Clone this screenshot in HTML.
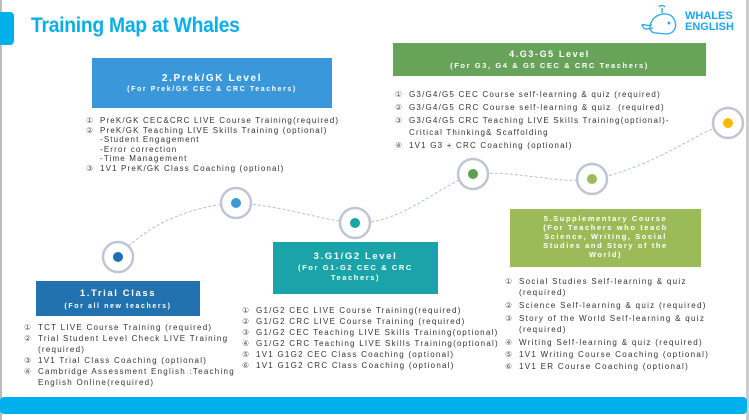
<!DOCTYPE html>
<html><head><meta charset="utf-8"><style>
*{margin:0;padding:0;box-sizing:border-box}
body{width:749px;height:420px;background:#fff;position:relative;overflow:hidden;font-family:"Liberation Sans","DejaVu Sans",sans-serif}
.abs{position:absolute}
.box{position:absolute;color:#fff;text-align:center;font-weight:bold;letter-spacing:1.6px}
.list{position:absolute;font-size:8px;color:#333;letter-spacing:1.25px;white-space:nowrap}
.list div{height:11px;line-height:11px}
.n{display:inline-block;width:14px;font-size:8px;color:#555;letter-spacing:0}
.ind{padding-left:14px}
</style></head><body>
<div class="abs" style="left:0;top:0;width:2px;height:420px;background:#bbb"></div>
<div class="abs" style="left:746px;top:0;width:3px;height:420px;background:#ccc"></div>
<div class="abs" style="left:0;top:12px;width:14px;height:33px;background:#00aeea;border-radius:0 4px 4px 0"></div>
<div class="abs" style="left:31px;top:14px;font-size:21px;color:#0aaee8;font-weight:bold;letter-spacing:-0.3px;transform:scaleX(0.92);transform-origin:0 0;white-space:nowrap">Training Map at Whales</div>
<svg class="abs" style="left:640px;top:3px" width="48" height="34" viewBox="0 0 48 34">
<g fill="none" stroke="#2aa7ea" stroke-width="1.3">
<path d="M16 30 C10 30 8 24 12 18 C16 10 30 8 34 16 C38 24 34 31 26 31 Z"/>
<path d="M12 22 C6 24 4 20 2 22 C4 24 3 26 6 26 C9 26 11 25 13 25"/>
<path d="M22 10 L22 5 M19 4 C20 2 24 2 25 4"/>
<circle cx="29" cy="20" r="0.8" fill="#2aa7ea"/>
</g></svg>
<div class="abs" style="left:685px;top:11px;font-size:11px;line-height:11px;color:#1aa6ec;font-weight:bold">WHALES<br>ENGLISH</div>

<svg class="abs" style="left:0;top:0" width="749" height="420">
<path d="M118 257 C150 220 200 205 236 203 C280 205 320 220 355 223 C400 225 440 185 473 174 C520 170 560 185 592 179 C650 170 700 130 728 123" fill="none" stroke="#b8bfd3" stroke-width="1" stroke-dasharray="3,2"/>
<g fill="#fff" stroke="#bfc5d5" stroke-width="2.5">
<circle cx="118" cy="257" r="15"/><circle cx="236" cy="203" r="15"/><circle cx="355" cy="223" r="15"/>
<circle cx="473" cy="174" r="15"/><circle cx="592" cy="179" r="15"/><circle cx="728" cy="123" r="15"/>
</g>
<circle cx="118" cy="257" r="5" fill="#1f6fb0"/><circle cx="236" cy="203" r="5" fill="#3a97d9"/>
<circle cx="355" cy="223" r="5" fill="#1aa3a8"/><circle cx="473" cy="174" r="5" fill="#5f9f50"/>
<circle cx="592" cy="179" r="5" fill="#9bbb58"/><circle cx="728" cy="123" r="5" fill="#f6bb00"/>
</svg>

<div class="box" style="left:92px;top:58px;width:240px;height:50px;background:#3a97d9;padding-top:15px">
<div style="font-size:10px;line-height:12px">2.Prek/GK Level</div>
<div style="font-size:7px;line-height:10px">(For Prek/GK CEC &amp; CRC Teachers)</div></div>
<div class="list" style="left:86px;top:116px;letter-spacing:1.15px">
<div style="height:9.5px;line-height:9.5px"><span class="n">①</span>PreK/GK CEC&amp;CRC LIVE Course Training(required)</div>
<div style="height:9.5px;line-height:9.5px"><span class="n">②</span>PreK/GK Teaching LIVE Skills Training (optional)</div>
<div style="height:9.5px;line-height:9.5px" class="ind">-Student Engagement</div>
<div style="height:9.5px;line-height:9.5px" class="ind">-Error correction</div>
<div style="height:9.5px;line-height:9.5px" class="ind">-Time Management</div>
<div style="height:9.5px;line-height:9.5px"><span class="n">③</span>1V1 PreK/GK Class Coaching (optional)</div>
</div>

<div class="box" style="left:393px;top:43px;width:313px;height:33px;background:#68a35a;padding-top:5px">
<div style="font-size:9px;line-height:12px">4.G3-G5 Level</div>
<div style="font-size:7.5px;line-height:11px">(For G3, G4 &amp; G5 CEC &amp; CRC Teachers)</div></div>
<div class="list" style="left:395px;top:88px;letter-spacing:1.2px">
<div style="height:13px;line-height:13px"><span class="n">①</span>G3/G4/G5 CEC Course self-learning &amp; quiz (required)</div>
<div style="height:13px;line-height:13px"><span class="n">②</span>G3/G4/G5 CRC Course self-learning &amp; quiz&nbsp; (required)</div>
<div style="height:13px;line-height:13px"><span class="n">③</span>G3/G4/G5 CRC Teaching LIVE Skills Training(optional)-</div>
<div style="height:12px;line-height:12px" class="ind">Critical Thinking&amp; Scaffolding</div>
<div style="height:13px;line-height:13px"><span class="n">④</span>1V1 G3 + CRC Coaching (optional)</div>
</div>

<div class="box" style="left:273px;top:242px;width:165px;height:52px;background:#1aa3a8;padding-top:8px">
<div style="font-size:9.5px;line-height:13px">3.G1/G2 Level</div>
<div style="font-size:7.5px;line-height:10px">(For G1-G2 CEC &amp; CRC<br>Teachers)</div></div>
<div class="list" style="left:242px;top:305px">
<div><span class="n">①</span>G1/G2 CEC LIVE Course Training(required)</div>
<div><span class="n">②</span>G1/G2 CRC LIVE Course Training (required)</div>
<div><span class="n">③</span>G1/G2 CEC Teaching LIVE Skills Training(optional)</div>
<div><span class="n">④</span>G1/G2 CRC Teaching LIVE Skills Training(optional)</div>
<div><span class="n">⑤</span>1V1 G1G2 CEC Class Coaching (optional)</div>
<div><span class="n">⑥</span>1V1 G1G2 CRC Class Coaching (optional)</div>
</div>

<div class="box" style="left:36px;top:281px;width:164px;height:35px;background:#2172ae;padding-top:6px">
<div style="font-size:9.5px;line-height:14px">1.Trial Class</div>
<div style="font-size:7px;line-height:11px">(For all new teachers)</div></div>
<div class="list" style="left:24px;top:322px">
<div><span class="n">①</span>TCT LIVE Course Training (required)</div>
<div><span class="n">②</span>Trial Student Level Check LIVE Training</div>
<div class="ind">(required)</div>
<div><span class="n">③</span>1V1 Trial Class Coaching (optional)</div>
<div><span class="n">④</span>Cambridge Assessment English :Teaching</div>
<div class="ind">English Online(required)</div>
</div>

<div class="box" style="left:510px;top:209px;width:191px;height:58px;background:#9bbb58;padding-top:5px">
<div style="font-size:7.5px;line-height:9px">5.Supplementary Course<br>(For Teachers who teach<br>Science, Writing, Social<br>Studies and Story of the<br>World)</div></div>
<div class="list" style="left:505px;top:276px;letter-spacing:1.3px">
<div><span class="n">①</span>Social Studies Self-learning &amp; quiz</div>
<div class="ind" style="height:13px">(required)</div>
<div style="height:13px"><span class="n">②</span>Science Self-learning &amp; quiz (required)</div>
<div><span class="n">③</span>Story of the World Self-learning &amp; quiz</div>
<div class="ind" style="height:13px">(required)</div>
<div style="height:12px"><span class="n">④</span>Writing Self-learning &amp; quiz (required)</div>
<div style="height:12px"><span class="n">⑤</span>1V1 Writing Course Coaching (optional)</div>
<div style="height:12px"><span class="n">⑥</span>1V1 ER Course Coaching (optional)</div>
</div>

<div class="abs" style="left:0;top:397px;width:747px;height:17px;background:#00b0ec;border-radius:4px"></div>
</body></html>
